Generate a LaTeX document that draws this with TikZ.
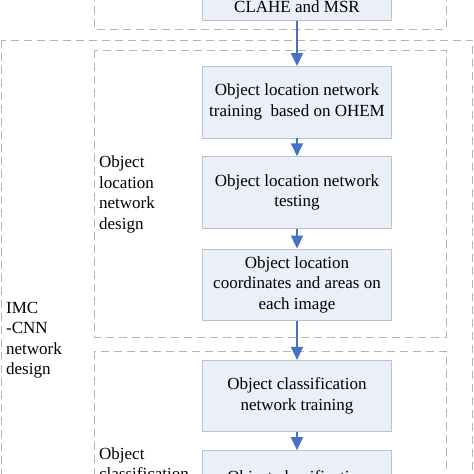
\documentclass[tikz,border=0pt]{standalone}
\usepackage{fontspec}
\setmainfont{Liberation Serif}
\usepackage{xcolor}
\usepackage{tikz}
\usetikzlibrary{arrows.meta, positioning}

\definecolor{boxfill}{HTML}{EAEFF8}
\definecolor{boxline}{HTML}{B7C3D6}
\definecolor{dashgray}{HTML}{B3B3B3}
\definecolor{arrowblue}{HTML}{4472C4}

\begin{document}
\begin{tikzpicture}[
          x=1pt, y=-1pt,
          font=\fontsize{17}{20.5}\selectfont,
          node distance=18pt,
          stepbox/.style={rectangle, draw=boxline, fill=boxfill, line width=0.8pt,
            minimum width=189pt, minimum height=71.5pt, inner sep=0pt, align=center},
          region/.style={draw=dashgray, line width=0.9pt, dash pattern=on 8pt off 5pt},
          note/.style={anchor=north west, align=left, inner sep=0pt},
          flow/.style={-{Triangle[width=12pt,length=13pt]}, draw=arrowblue, line width=1.8pt}
        ]
          \useasboundingbox (0,0) rectangle (474,474);
          % dashed regions
          \draw[region] (94,-20) rectangle (446,29);
          \draw[region] (1.5,40) rectangle (472.5,520);
          \draw[region] (94,50) rectangle (446,337);
          \draw[region] (94,351) rectangle (446,520);
          % steps
          \node[stepbox, anchor=south, text height=64pt, text depth=7.7pt] (enhance) at (297,21) {CLAHE and MSR};
          \node[stepbox, anchor=north] (loctrain) at (297,66) {Object location network\\training~ based on OHEM};
          \node[stepbox, below=of loctrain] (loctest) {Object location network\\testing};
          \node[stepbox, below=20pt of loctest] (locout) {Object location\\coordinates and areas on\\each image};
          \node[stepbox, below=39pt of locout] (clstrain) {Object classification\\network training};
          \node[stepbox, below=of clstrain, text height=32pt, text depth=40pt] (clstest) {Object classification};
          % labels
          \node[note] (imcnote) at (6,302) {IMC\\-CNN\\network\\design};
          \node[note] (locnote) at (99,156) {Object\\location\\network\\design};
          \node[note] (clsnote) at (99,447) {Object\\classification};
          % arrows
          \draw[flow] (enhance) -- (loctrain);
          \draw[flow] (loctrain) -- (loctest);
          \draw[flow] (loctest) -- (locout);
          \draw[flow] (locout) -- (clstrain);
          \draw[flow] (clstrain) -- (clstest);
        \end{tikzpicture}
\end{document}
